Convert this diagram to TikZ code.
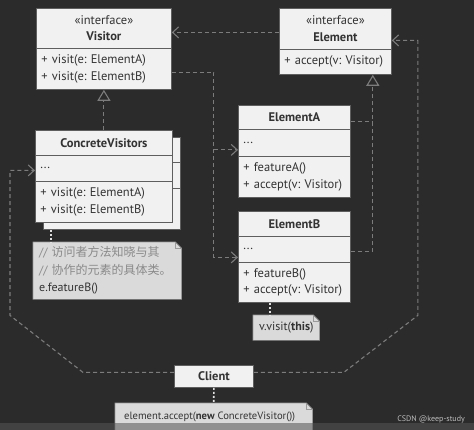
\documentclass[tikz,border=0pt]{standalone}
\usepackage{fontspec}
\setmainfont{PT Sans}
\newfontfamily\cjk{Noto Sans CJK SC}
\usetikzlibrary{arrows.meta}
\frenchspacing
\definecolor{bgc}{HTML}{2B2B2B}
\definecolor{boxfill}{HTML}{F1F1F1}
\definecolor{boxline}{HTML}{5E5E5E}
\definecolor{txt}{HTML}{333333}
\definecolor{dashc}{HTML}{7C7C7C}
\definecolor{notefill}{HTML}{DADADA}
\definecolor{noteline}{HTML}{9A9A9A}
\definecolor{comment}{HTML}{8A8A8A}
\newcommand\dogear[1]{%
  \draw[noteline, line width=0.7pt] (#1.north west) -- ([xshift=-6pt]#1.north east) -- ([yshift=-6pt]#1.north east) -- (#1.south east) -- (#1.south west) -- cycle;
  \draw[noteline, line width=0.7pt] ([xshift=-6pt]#1.north east) |- ([yshift=-6pt]#1.north east);}
\begin{document}
\begin{tikzpicture}[x=1pt,y=-1pt,
  font=\fontsize{12.5}{16.5}\selectfont,
  sec/.style={draw=boxline, fill=boxfill, line width=0.8pt, inner sep=0pt, anchor=north west, text=txt},
  hdr/.style={sec, align=center},
  lft/.style={sec, align=left, inner xsep=5pt},
  notebox/.style={fill=notefill, anchor=north west, inner sep=0pt, inner xsep=6pt, align=left, text=txt,
    path picture={\fill[bgc] ([xshift=-6pt]path picture bounding box.north east) -- (path picture bounding box.north east) -- ([yshift=-6pt]path picture bounding box.north east) -- cycle;}},
  dashline/.style={draw=dashc, line width=1.1pt, dash pattern=on 4pt off 3pt},
  dep/.style={dashline, -{Straight Barb[length=6pt,width=11pt,line width=1.1pt]}},
  inh/.style={dashline, -{Triangle[open,length=11pt,width=13pt,line width=1.1pt]}},
  dotc/.style={draw=boxfill!85!gray, line width=1.6pt, dash pattern=on 2pt off 2pt},
]
\fill[bgc] (0,0) rectangle (474,430);
\useasboundingbox (0,0) rectangle (474,430);

% Visitor
\node[hdr, minimum width=135pt, minimum height=40pt] (vish) at (36,8) {«interface»\\\textbf{Visitor}};
\node[lft, text width=125pt, minimum height=41pt] (vism) at (36,48) {+ visit(e: ElementA)\\+ visit(e: ElementB)};

% Element
\node[hdr, minimum width=112pt, minimum height=41pt] (elh) at (279,8) {«interface»\\\textbf{Element}};
\node[lft, text width=102pt, minimum height=25pt] (elm) at (279,49) {+ accept(v: Visitor)};

% ConcreteVisitors (stack)
\node[sec, minimum width=137pt, minimum height=25pt] (cvb1) at (43,137) {};
\node[sec, minimum width=137pt, minimum height=26pt] (cvb2) at (43,162) {};
\node[sec, minimum width=137pt, minimum height=41pt] (cvb3) at (43,188) {};
\node[hdr, minimum width=137pt, minimum height=25pt] (cvh) at (35,130) {\textbf{ConcreteVisitors}};
\node[lft, text width=127pt, minimum height=26pt] (cvd) at (35,155) {...};
\node[lft, text width=127pt, minimum height=41pt] (cvm) at (35,181) {+ visit(e: ElementA)\\+ visit(e: ElementB)};

% ElementA
\node[hdr, minimum width=112pt, minimum height=24pt] (eah) at (238,105) {\textbf{ElementA}};
\node[lft, text width=102pt, minimum height=27pt] (ead) at (238,129) {...};
\node[lft, text width=102pt, minimum height=41pt] (eam) at (238,156) {+ featureA()\\+ accept(v: Visitor)};

% ElementB
\node[hdr, minimum width=112pt, minimum height=25pt] (ebh) at (238,211) {\textbf{ElementB}};
\node[lft, text width=102pt, minimum height=26pt] (ebd) at (238,236) {...};
\node[lft, text width=102pt, minimum height=40pt] (ebm) at (238,262) {+ featureB()\\+ accept(v: Visitor)};

% Client
\node[hdr, minimum width=79pt, minimum height=22pt] (cl) at (174,365) {\textbf{Client}};

% Notes
\node[notebox, text width=136pt, minimum height=57pt, font=\fontsize{12}{17.5}\selectfont] (n1) at (33,242)
  {\textcolor{comment}{// \cjk 访问者方法知晓与其}\\\textcolor{comment}{// \cjk 协作的元素的具体类。}\\e.featureB()};
\dogear{n1}
\node[notebox, text width=54pt, minimum height=25pt, font=\fontsize{12}{14}\selectfont] (n2) at (253,315) {v.visit(\textbf{this})};
\dogear{n2}
\node[notebox, minimum width=197pt, minimum height=28pt, inner xsep=5pt, font=\fontsize{10.6}{13}\selectfont] (n3) at (115,403) {element.accept(\textbf{new} ConcreteVisitor())\hspace{8pt}};
\dogear{n3}

% Connectors
\draw[dep] ([yshift=-3.5pt]elh.west) -- ([yshift=-3.5pt]elh.west -| vish.east);
\coordinate (vx) at ([xshift=42pt,yshift=-3.5pt]vism.east);
\draw[dep] ([yshift=-3.5pt]vism.east) -- (vx) |- ([yshift=-8pt]ebd.west);
\draw[dep] ([yshift=-7pt]ead.west -| vx) -- ([yshift=-7pt]ead.west);
\draw[inh] (cvh.north) -- (vism.south);
\coordinate (ix) at ([xshift=-19pt]elm.south east);
\draw[inh] ([yshift=-2pt]ebd.east) -| (ix);
\draw[dashline] ([yshift=-4pt]eah.east) -- ([yshift=-4pt]eah.east -| ix);
\draw[dep] ([yshift=4pt]cl.east) -- ++(90,0) -- ++(74,-57) |- ([yshift=-11.5pt]elh.east);
\draw[dep] ([yshift=4pt]cl.west) -- ++(-91,0) -- ++(-73,-57) |- ([yshift=-2pt]cvd.west);
\draw[dotc] ([xshift=8pt]cvb3.south west) -- ([xshift=18pt]n1.north west);
\draw[dotc] ([xshift=32pt]ebm.south west) -- ([xshift=17pt]n2.north west);
\draw[dotc] (cl.south) -- (n3.north);

% bottom band and watermark
\fill[fill={rgb,255:red,85;green,85;blue,85}, opacity=0.55] (0,423) rectangle (474,430);
\node[text={rgb,255:red,190;green,190;blue,190}, font=\fontsize{8}{9}\selectfont, anchor=east, inner sep=0pt] (wm) at (465,419) {CSDN @keep-study};
\end{tikzpicture}
\end{document}
